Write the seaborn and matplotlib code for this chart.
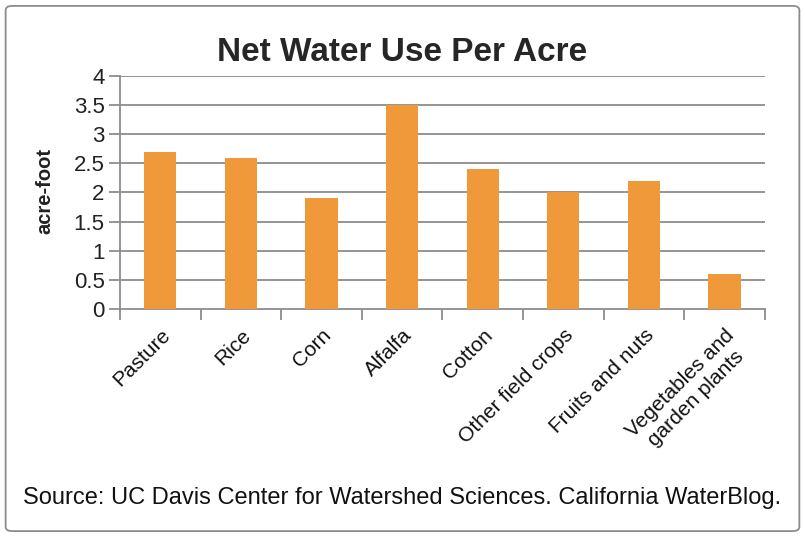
import matplotlib
matplotlib.use('Agg')
import matplotlib.pyplot as plt
from matplotlib.patches import FancyBboxPatch
import numpy as np
import pandas as pd
import seaborn as sns

crops = ['Pasture', 'Rice', 'Corn', 'Alfalfa', 'Cotton', 'Other field crops',
         'Fruits and nuts', 'Vegetables and\ngarden plants']
acre_feet = [2.7, 2.6, 1.9, 3.5, 2.4, 2.0, 2.2, 0.6]
y_ticks = [0, 0.5, 1, 1.5, 2, 2.5, 3, 3.5, 4]
y_labels = ['0', '0.5', '1', '1.5', '2', '2.5', '3', '3.5', '4']

sns.set_style('white')
plt.rcParams['font.family'] = ['Liberation Sans', 'DejaVu Sans']

df = pd.DataFrame({'crop': crops, 'value': acre_feet})

fig = plt.figure(figsize=(8.05, 5.37), dpi=100)
ax = fig.add_axes([0.149, 0.4246, 0.801, 0.4339])

sns.barplot(data=df, x='crop', y='value', color='#F0993A', width=0.4,
            saturation=1, linewidth=0, ax=ax, zorder=3)

grid_col = '#8C8C8C'
ax.set_ylim(0, 4)
ax.set_xlim(-0.5, len(crops) - 0.5)
ax.set_yticks(y_ticks)
ax.set_yticklabels(y_labels, fontsize=16, color='#222222')
for y in y_ticks[1:]:
    ax.axhline(y, color=grid_col, lw=1.3, zorder=1)

ax.set_xticks(range(len(crops)))
ax.set_xticklabels(crops, rotation=45, ha='right', va='top',
                   rotation_mode='anchor', fontsize=15, color='#111111',
                   multialignment='center')
ax.set_xticks(np.arange(-0.5, len(crops), 1), minor=True)
ax.tick_params(axis='x', which='major', length=0, pad=12)
ax.tick_params(axis='x', which='minor', length=8, width=1.3, color=grid_col,
               direction='out', bottom=True)
ax.tick_params(axis='y', length=8, width=1.3, color=grid_col,
               direction='out', left=True, pad=3)

for side in ['top', 'right']:
    ax.spines[side].set_visible(False)
for side in ['left', 'bottom']:
    ax.spines[side].set_color(grid_col)
    ax.spines[side].set_linewidth(1.3)

ax.set_xlabel('')
ax.set_ylabel('')
fig.text(0.056, 0.645, 'acre-foot', rotation=90, ha='center', va='center',
         fontsize=14.5, fontweight='bold', color='#222222')

fig.text(0.5, 0.903, 'Net Water Use Per Acre', ha='center', va='center',
         fontsize=24, fontweight='bold')
fig.text(0.5, 0.073,
         'Source: UC Davis Center for Watershed Sciences. California WaterBlog.',
         ha='center', va='center', fontsize=17, color='#111111')

border = FancyBboxPatch((0.007, 0.011), 0.986, 0.978,
                        boxstyle='round,pad=0,rounding_size=0.008',
                        transform=fig.transFigure, fill=False,
                        edgecolor='#8C8C8C', linewidth=1.3)
fig.patches.append(border)

fig.savefig('out.png', dpi=100)
